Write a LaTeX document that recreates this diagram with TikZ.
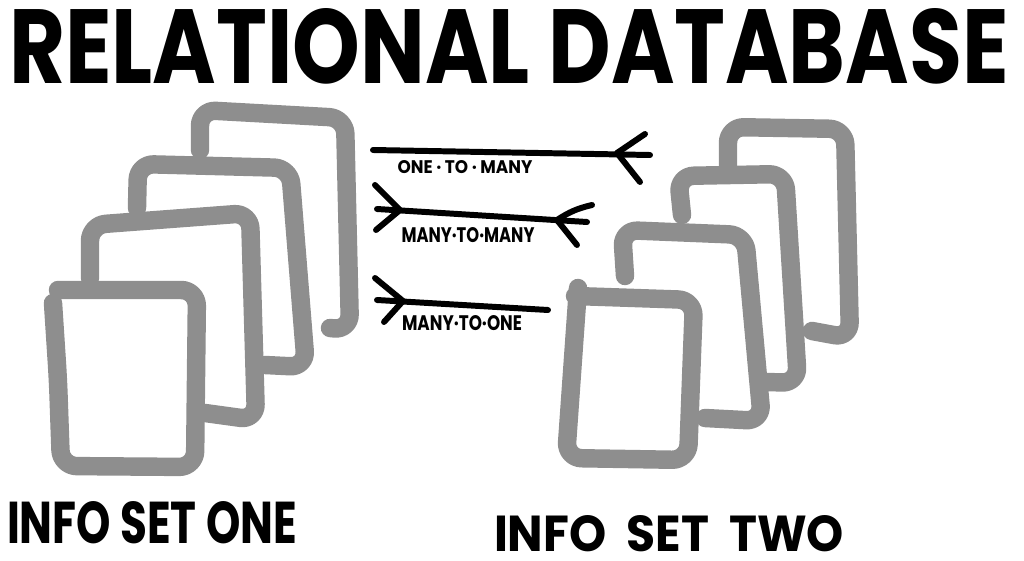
\documentclass[tikz,border=0pt]{standalone}
\usepackage{fontspec}
\setmainfont{Poppins}
\usepackage{graphicx}

\definecolor{pagegray}{HTML}{8E8E8E}

\newcommand{\fitlabel}[3]{\resizebox{#1}{#2}{\bfseries #3}}

\tikzset{
  page/.style={draw=pagegray, line width=10.5pt, line cap=round, line join=round, rounded corners=9pt},
  link/.style={draw=black, line width=3.4pt, line cap=round, line join=round},
  word/.style={inner sep=0pt, text=black}
}

\begin{document}
\begin{tikzpicture}[x=0.02cm, y=-0.02cm]
\useasboundingbox (0,0) rectangle (1024,561);

% title
\node[word] (title) at (509,46) {\fitlabel{20cm}{1.5cm}{RELATIONAL DATABASE}};

% info set one, back to front
\draw[page] (200,150) -- (200,110) -- (345,118) -- (350,330) -- (330,328);
\draw[page] (137,208) -- (138,164) -- (290,168) -- (306,367) -- (265,365);
\draw[page] (90,278) -- (90,225) -- (250,213) -- (256,420) -- (205,413);
\draw[page] (53,303) -- (58,380) -- (61,466) -- (195,467) -- (197,290) -- (58,290);

% info set two, back to front
\draw[page] (728,165) -- (728,127) -- (845,129) -- (850,338) -- (812,331);
\draw[page] (682,215) -- (678,176) -- (785,174) -- (798,383) -- (768,382);
\draw[page] (625,276) -- (622,230) -- (745,235) -- (762,421) -- (705,418);
\draw[page] (578,288) -- (566,458) -- (688,460) -- (694,300) -- (575,296);

% end points of the links
\coordinate (onestart) at (373,150);
\coordinate (oneend) at (650,155);
\coordinate (onefoot) at (617,153);
\coordinate (onetop) at (645,134);
\coordinate (onebot) at (640,182);

\coordinate (manystart) at (377,209);
\coordinate (manyend) at (587,222);
\coordinate (manyfootl) at (400,210);
\coordinate (manytopl) at (375,185);
\coordinate (manybotl) at (376,230);
\coordinate (manyfootr) at (557,220);
\coordinate (manytopr) at (592,205);
\coordinate (manybotr) at (577,245);

\coordinate (tostart) at (377,300);
\coordinate (toend) at (548,310);
\coordinate (tofoot) at (403,301);
\coordinate (totop) at (375,278);
\coordinate (tobot) at (384,322);

% one to many
\draw[link] (onestart) -- (oneend);
\draw[link] (onetop) -- (onefoot) -- (onebot);
\node[word] (onelabel) at (465,167) {\fitlabel{2.7cm}{0.26cm}{ONE · TO · MANY}};

% many to many
\draw[link] (manystart) -- (manyend);
\draw[link] (manytopl) -- (manyfootl) -- (manybotl);
\draw[link] (manytopr) to[bend right=10] (manyfootr) -- (manybotr);
\node[word] (manylabel) at (468,235) {\fitlabel{2.66cm}{0.3cm}{MANY·TO·MANY}};

% many to one
\draw[link] (tostart) -- (toend);
\draw[link] (totop) -- (tofoot) -- (tobot);
\node[word] (tolabel) at (462,323) {\fitlabel{2.4cm}{0.3cm}{MANY·TO·ONE}};

% set names
\node[word] (setone) at (152,523) {\fitlabel{5.8cm}{0.84cm}{INFO SET ONE}};
\node[word] (settwo) at (669,534) {\fitlabel{7cm}{0.72cm}{INFO \ SET \ TWO}};

\end{tikzpicture}
\end{document}
